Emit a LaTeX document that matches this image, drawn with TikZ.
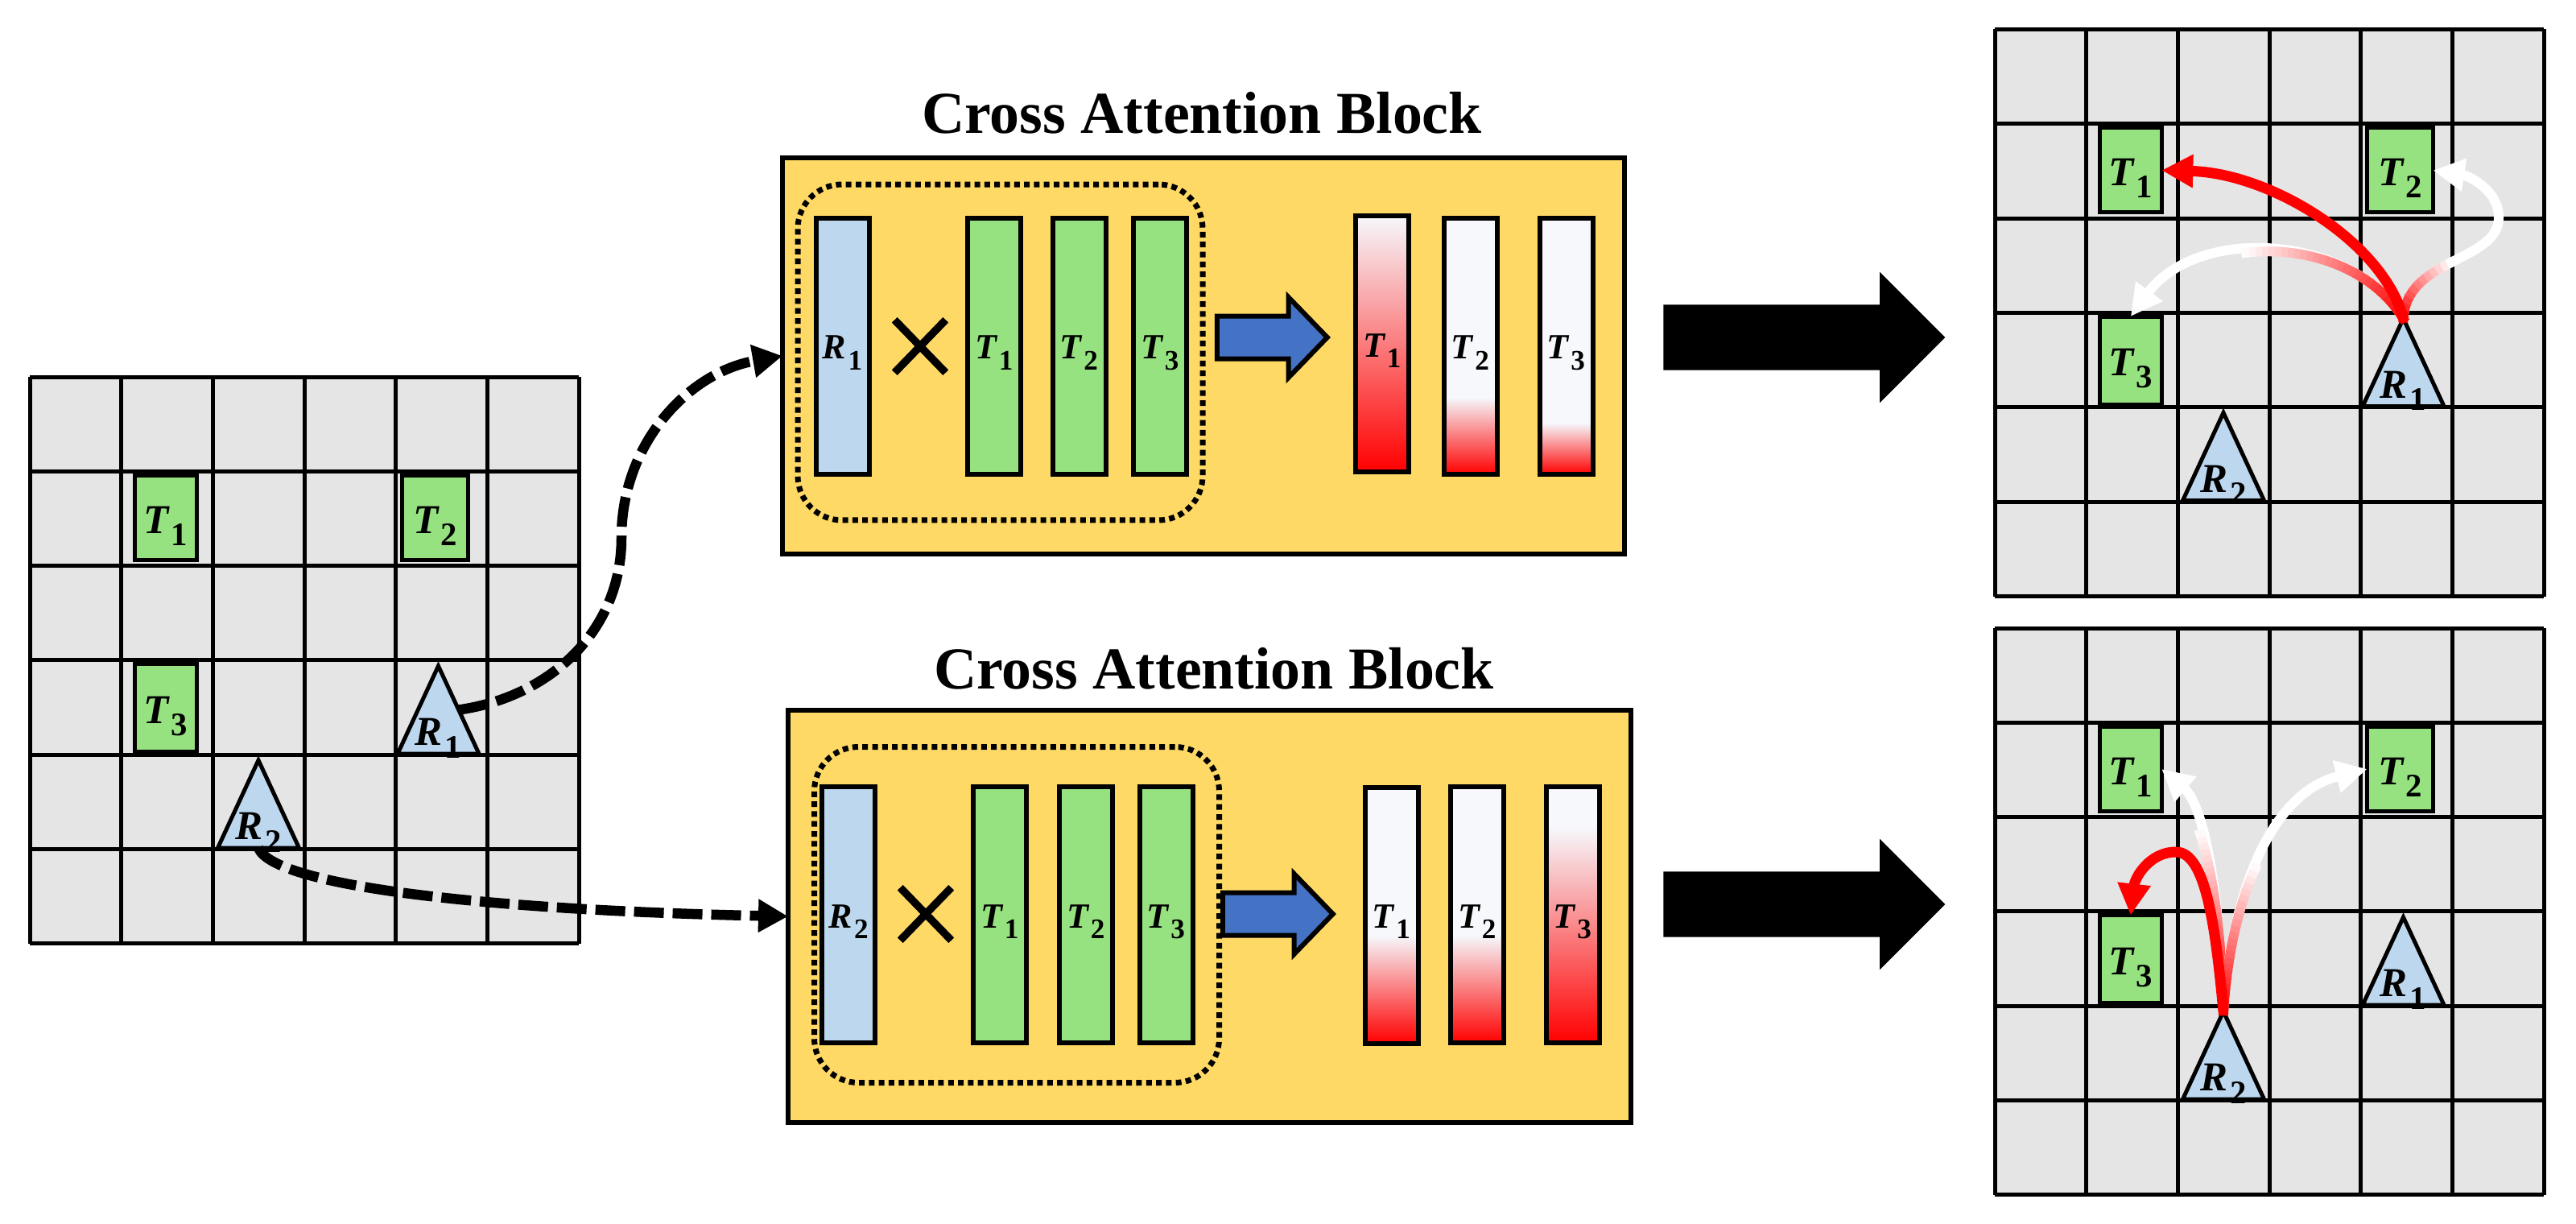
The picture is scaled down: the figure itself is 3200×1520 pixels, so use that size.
\documentclass[tikz,border=0pt]{standalone}
\usepackage{amsmath}
\usepackage{amssymb}
\usepackage{fontspec}
\usepackage{xcolor}
\usetikzlibrary{arrows.meta,decorations.markings,shapes.geometric,shapes.arrows,shapes.misc}
\newfontfamily\blockfont{Liberation Serif}
\definecolor{cellgray}{HTML}{E5E5E5}
\definecolor{robotblue}{HTML}{BDD7EE}
\definecolor{targetgreen}{HTML}{97E280}
\definecolor{blockyellow}{HTML}{FFD966}
\definecolor{flowblue}{HTML}{4472C4}
\definecolor{barwhite}{HTML}{F6F8FC}
% Vertical fills of the output bars, #2 is where the red ends
\newcommand{\heatshade}[2]{\pgfdeclareverticalshading{#1}{100bp}{color(0bp)=(red);color(25bp)=(red);color(#2)=(barwhite);color(100bp)=(barwhite)}}
\heatshade{heatfull}{75bp}
\heatshade{heatthird}{40bp}
\heatshade{heatfifth}{35bp}
\heatshade{heathalf}{46bp}
\heatshade{heatmost}{67bp}
\newcommand{\tlabel}[2]{{\blockfont\bfseries\itshape #1}\kern.06em\raisebox{-.3em}{\scalebox{.8}{\blockfont\bfseries #2}}}
\begin{document}
\begin{tikzpicture}[x=.1mm,y=-.1mm,>=Triangle]
% Node styles
\tikzstyle{grid line}=[draw=black,line width=.5mm];
\tikzstyle{target}=[rectangle,draw,line width=.5mm,fill=targetgreen,inner sep=0,outer sep=0,text height=5.2mm,text depth=1.4mm,font=\fontsize{14.5}{16}\selectfont];
\tikzstyle{robot}=[isosceles triangle,isosceles triangle stretches,shape border rotate=90,draw,line width=.5mm,fill=robotblue,inner sep=0,outer sep=0,minimum width=10.1mm,minimum height=10.9mm,anchor=lower side];
\tikzstyle{robot label}=[inner sep=0,outer sep=0,anchor=south,yshift=-.5mm,font=\fontsize{14.5}{16}\selectfont];
\tikzstyle{block}=[rectangle,draw,line width=.55mm,fill=blockyellow,inner sep=0,outer sep=0];
\tikzstyle{group}=[rectangle,draw,rounded corners=5.5mm,line width=.7mm,dash pattern=on .7mm off .53mm,minimum width=50.3mm,minimum height=41.7mm];
\tikzstyle{bar}=[rectangle,draw,line width=.6mm,inner sep=0,outer sep=0,minimum width=6.6mm,minimum height=31.8mm,text height=4.5mm,text depth=1.3mm,font=\fontsize{12.5}{14}\selectfont];
\tikzstyle{times}=[cross out,draw,line width=.95mm,inner sep=0,minimum width=5.4mm,minimum height=5.6mm];
\tikzstyle{flow}=[single arrow,draw,line width=.6mm,fill=flowblue,inner xsep=0,inner ysep=2.35mm,outer sep=0,minimum height=13.7mm,single arrow head extend=2.35mm,single arrow tip angle=92];
\tikzstyle{big flow}=[single arrow,fill=black,inner xsep=0,inner ysep=4mm,outer sep=0,minimum height=35mm,single arrow head extend=4.05mm,single arrow tip angle=90];
\tikzstyle{title}=[font=\blockfont\bfseries\fontsize{21}{24}\selectfont,inner sep=0];
\tikzstyle{query}=[line width=1.25mm,dash pattern=on 3.7mm off 1.1mm,-{Triangle[length=3.7mm,width=3.9mm]}];
\tikzstyle{weak link}=[white,line width=1.2mm,-{Triangle[length=3.9mm,width=3.9mm]}];
\tikzstyle{strong link}=[red,line width=1.3mm,-{Triangle[length=3.9mm,width=3.9mm]}];
\tikzset{heat stroke/.style n args={2}{postaction={decorate,decoration={markings,mark=between positions 0 and #1 step .8mm with {\pgfmathsetmacro\heatmix{max(0,100*(1-\pgfkeysvalueof{/pgf/decoration/mark info/distance from start}/(#1*\pgfdecoratedpathlength)))}\fill[red!\heatmix!white] (-.5mm,-#2) rectangle (.5mm,#2);}}}}}
\useasboundingbox (0,0) rectangle (3200,1520);
% The three maps
\foreach \mapname/\mx/\my in {m/37/468,a/2478/36.5,b/2478/780}{
\begin{scope}[shift={(\mx,\my)}]
\fill[cellgray] (0,0) rectangle (682,704);
\foreach \i in {0,...,6}{
\draw[grid line] (\i*113.67,0) -- (\i*113.67,704);
\draw[grid line] (0,\i*117.33) -- (682,\i*117.33);
}
\node(T1\mapname)[target,minimum width=7.7mm,minimum height=10.5mm] at (168.75,175){\tlabel{T}{1}};
\node(T2\mapname)[target,minimum width=8.2mm,minimum height=10.5mm] at (503.5,175){\tlabel{T}{2}};
\node(T3\mapname)[target,minimum width=7.7mm,minimum height=10.9mm] at (168.75,411){\tlabel{T}{3}};
\node(R1\mapname)[robot] at (507.5,468){};
\node(R2\mapname)[robot] at (284,585){};
\node(RL1\mapname)[robot label] at (R1\mapname.lower side){\tlabel{R}{1}};
\node(RL2\mapname)[robot label] at (R2\mapname.lower side){\tlabel{R}{2}};
\end{scope}
}
% Cross attention blocks
\node(blockA)[block,minimum width=104.6mm,minimum height=49.2mm] at (1495,442){};
\node(blockB)[block,minimum width=104.7mm,minimum height=51.2mm] at (1502.5,1138){};
\node(titleA)[title] at (1493,140){Cross Attention Block};
\node(titleB)[title] at (1508,830){Cross Attention Block};
\node(groupA)[group] at (1242.5,437.5){};
\node(groupB)[group] at (1263,1136){};
\node(queryA)[bar,fill=robotblue] at (1046.5,430){\tlabel{R}{1}};
\node(queryB)[bar,fill=robotblue] at (1054,1136){\tlabel{R}{2}};
\node(timesA)[times] at (1143,430){};
\node(timesB)[times] at (1150,1135){};
\foreach \k/\xa/\xb in {1/1235/1242,2/1340.5/1349,3/1441/1448.5}{
\node(keyA\k)[bar,fill=targetgreen] at (\xa,430){\tlabel{T}{\k}};
\node(keyB\k)[bar,fill=targetgreen] at (\xb,1136){\tlabel{T}{\k}};
}
\node(flowA)[flow] at (1567.5,419){};
\node(flowB)[flow] at (1574.5,1135){};
\node(outA1)[bar,shade,shading=heatfull] at (1717,427){\tlabel{T}{1}};
\node(outA2)[bar,shade,shading=heatthird] at (1826.5,430){\tlabel{T}{2}};
\node(outA3)[bar,shade,shading=heatfifth] at (1945.5,430){\tlabel{T}{3}};
\node(outB1)[bar,shade,shading=heathalf] at (1728.5,1136.5){\tlabel{T}{1}};
\node(outB2)[bar,shade,shading=heathalf] at (1835,1136){\tlabel{T}{2}};
\node(outB3)[bar,shade,shading=heatmost] at (1953.5,1136){\tlabel{T}{3}};
% Big arrows
\node(bigA)[big flow] at (2221,419){};
\node(bigB)[big flow] at (2221,1123){};
% Queries of the robots
\draw[query](R1m.right side)to[out=8,in=-90](772,668)to[out=90,in=190](blockA.west);
\draw[query](R2m.lower side)..controls(340,1100)and(600,1130)..(blockB.west);
% Attention links, first map
\draw[weak link,heat stroke={.58}{.6mm}](R1a.apex)..controls(2920,290)and(2730,280)..(T3a.north);
\draw[weak link,heat stroke={.33}{.6mm}](R1a.apex)..controls(2990,320)and(3104,325)..(3104,270)..controls(3104,235)and(3065,218)..(T2a.east);
\draw[strong link](R1a.apex)..controls(2960,300)and(2820,215)..(T1a.east);
% Attention links, second map
\draw[weak link,heat stroke={.72}{.6mm}](R2b.apex)..controls(2758,1110)and(2738,1000)..(T1b.east);
\draw[weak link,heat stroke={.5}{.6mm}](R2b.apex)..controls(2772,1110)and(2820,985)..(T2b.west);
\draw[strong link](R2b.apex)..controls(2752,1150)and(2740,1058)..(2703,1058)..controls(2670,1058)and(2652,1090)..(T3b.north);
\end{tikzpicture}
\end{document}
